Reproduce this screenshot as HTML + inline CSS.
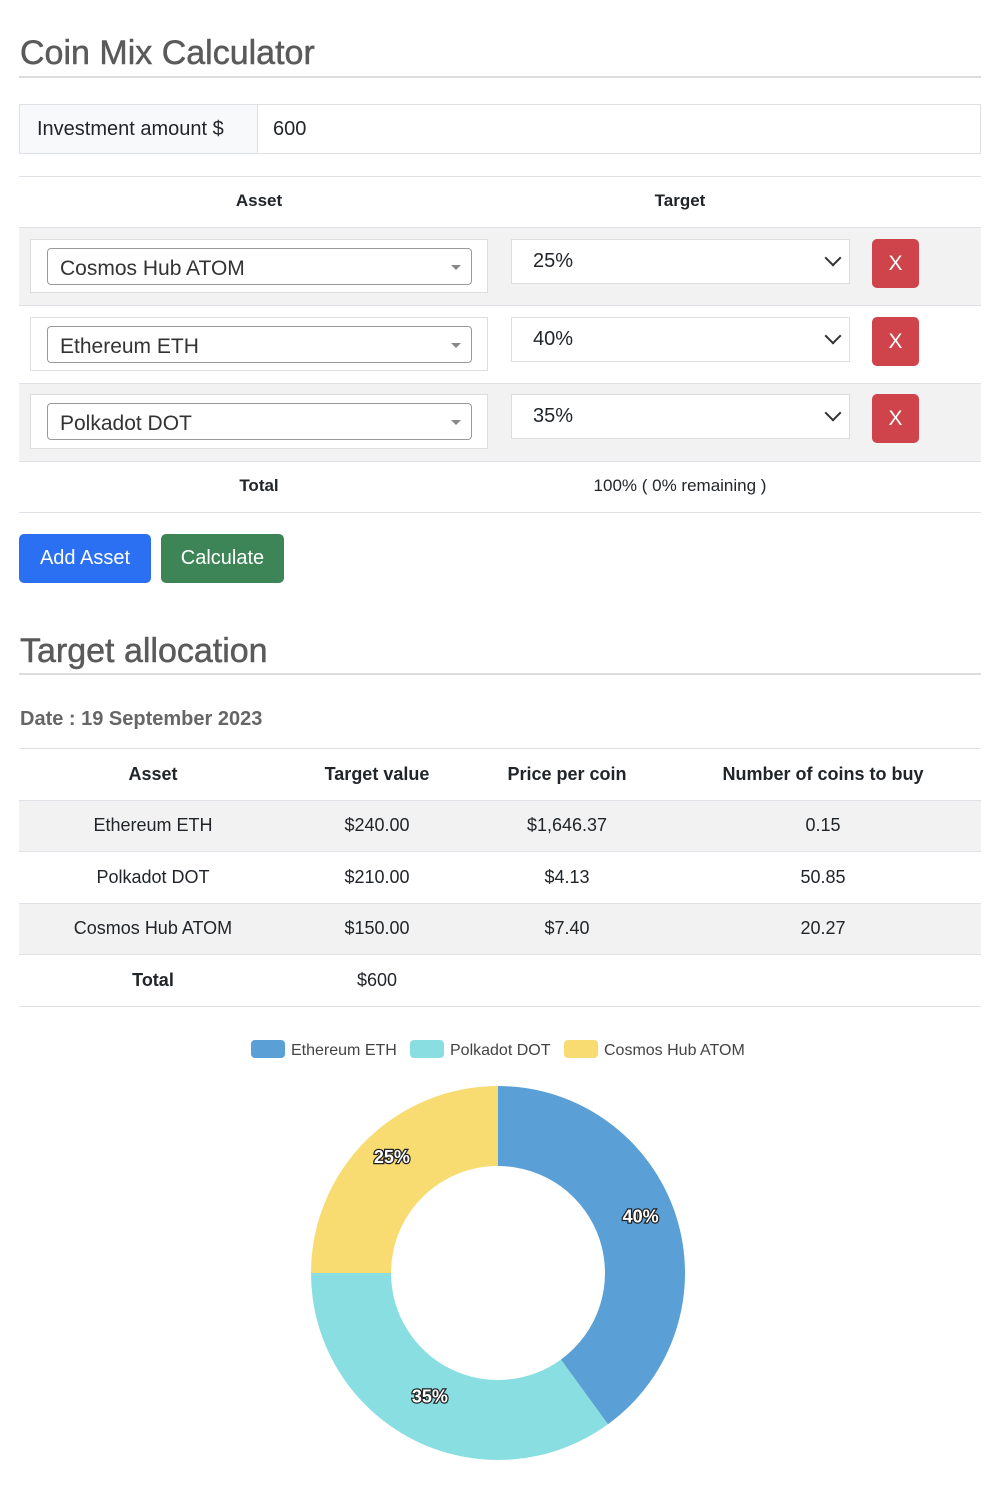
<!DOCTYPE html>
<html><head><meta charset="utf-8">
<style>
body{margin:0;width:996px;height:1508px;background:#fff;font-family:"Liberation Sans",sans-serif;color:#212529;position:relative;overflow:hidden}
.a{position:absolute}
.h{font-size:34px;color:#5a5a5a;left:20px;-webkit-text-stroke:0.5px #5a5a5a}
.rule{left:19px;width:962px;height:2px;background:#dcdcdc}
.ln{left:19px;width:962px;height:1px;background:#dee2e6}
.c{text-align:center;font-size:18px}
.b{font-weight:bold}
.sel{background:#fff;border:1px solid #999;border-radius:4px;font-size:21px;color:#333;box-sizing:border-box;padding:8px 12px}
.sel:after{content:"";position:absolute;right:10px;top:16px;border:5px solid transparent;border-top:5px solid #888}
.tgt{background:#fff;border:1px solid #ddd;font-size:20px;box-sizing:border-box;padding:10px 21px}
.chev{position:absolute;right:10px;top:12px;width:10px;height:10px;border-right:2px solid #333;border-bottom:2px solid #333;transform:rotate(45deg)}
.xb{background:#cf444b;color:#fff;border-radius:5px;font-size:21px;text-align:center;line-height:49px;width:47px;height:49px}
.btn{color:#fff;border-radius:5px;font-size:20px;text-align:center;line-height:49px;height:49px}
</style></head><body>
<div class="a h" style="top:34px">Coin Mix Calculator</div>
<div class="a rule" style="top:76px"></div>
<div class="a" style="left:19px;top:104px;width:962px;height:50px;border:1px solid #dee2e6;box-sizing:border-box">
 <div class="a" style="left:0;top:0;width:238px;height:48px;background:#f8f9fa;border-right:1px solid #dee2e6;font-size:20px;line-height:48px;padding-left:17px;box-sizing:border-box">Investment amount $</div>
 <div class="a" style="left:253px;top:0;font-size:20px;line-height:48px">600</div>
</div>
<div class="a ln" style="top:176px"></div>
<div class="a c b" style="left:19px;width:480px;top:191px;font-size:17px">Asset</div>
<div class="a c b" style="left:510px;width:340px;top:191px;font-size:17px">Target</div>
<div class="a ln" style="top:227px"></div>

<div class="a" style="left:19px;top:228px;width:962px;height:77px;background:#f2f2f2"></div>
<div class="a" style="left:19px;top:306px;width:962px;height:77px;background:#fff"></div>
<div class="a" style="left:19px;top:384px;width:962px;height:77px;background:#f2f2f2"></div>
<div class="a ln" style="top:305px"></div><div class="a ln" style="top:383px"></div><div class="a ln" style="top:461px"></div>

<div class="a" style="left:30px;top:239px;width:458px;height:54px;background:#fff;border:1px solid #ddd;box-sizing:border-box"></div>
<div class="a sel" style="left:47px;top:248px;width:425px;height:37px">Cosmos Hub ATOM</div>
<div class="a tgt" style="left:511px;top:239px;width:339px;height:45px">25%<span class="chev"></span></div>
<div class="a xb" style="left:872px;top:239px">X</div>

<div class="a" style="left:30px;top:317px;width:458px;height:54px;background:#fff;border:1px solid #ddd;box-sizing:border-box"></div>
<div class="a sel" style="left:47px;top:326px;width:425px;height:37px">Ethereum ETH</div>
<div class="a tgt" style="left:511px;top:317px;width:339px;height:45px">40%<span class="chev"></span></div>
<div class="a xb" style="left:872px;top:317px">X</div>

<div class="a" style="left:30px;top:394px;width:458px;height:55px;background:#fff;border:1px solid #ddd;box-sizing:border-box"></div>
<div class="a sel" style="left:47px;top:403px;width:425px;height:37px">Polkadot DOT</div>
<div class="a tgt" style="left:511px;top:394px;width:339px;height:45px">35%<span class="chev"></span></div>
<div class="a xb" style="left:872px;top:394px">X</div>

<div class="a c b" style="left:19px;width:480px;top:476px;font-size:17px">Total</div>
<div class="a c" style="left:510px;width:340px;top:476px;font-size:17px">100% ( 0% remaining )</div>
<div class="a ln" style="top:512px"></div>

<div class="a btn" style="left:19px;top:534px;width:132px;background:#2b6ff2">Add Asset</div>
<div class="a btn" style="left:161px;top:534px;width:123px;background:#3d8557">Calculate</div>

<div class="a h" style="top:632px">Target allocation</div>
<div class="a rule" style="top:673px"></div>
<div class="a" style="left:20px;top:708px;font-size:20px;color:#666;font-weight:bold">Date : 19 September 2023</div>

<div class="a ln" style="top:748px"></div>
<div class="a" style="left:19px;top:801px;width:962px;height:50px;background:#f2f2f2"></div>
<div class="a" style="left:19px;top:904px;width:962px;height:50px;background:#f2f2f2"></div>
<div class="a ln" style="top:800px"></div><div class="a ln" style="top:851px"></div><div class="a ln" style="top:903px"></div><div class="a ln" style="top:954px"></div><div class="a ln" style="top:1006px"></div>
<div id="tbl"></div>

<svg class="a" style="left:0;top:1020px" width="996" height="488">
<g id="legend"></g><g id="slices"></g><g id="labels"></g>
</svg>
<script>
const headers=["Asset","Target value","Price per coin","Number of coins to buy"];
const rows=[["Ethereum ETH","$240.00","$1,646.37","0.15"],["Polkadot DOT","$210.00","$4.13","50.85"],["Cosmos Hub ATOM","$150.00","$7.40","20.27"],["Total","$600","",""]];
const cx=[153,377,567,823];
const T=document.getElementById('tbl');
function cell(txt,x,y,bold,name){const d=document.createElement('div');d.className='a c'+(bold?' b':'');d.style.left=(x-150)+'px';d.style.width='300px';d.style.top=y+'px';d.textContent=txt;


T.appendChild(d);}
headers.forEach((h,i)=>cell(h,cx[i],764,true,'table-header'));
rows.forEach((r,j)=>r.forEach((v,i)=>cell(v,cx[i],815+j*51.5,j==3&&i==0,'table-cell')));

const labels=["Ethereum ETH","Polkadot DOT","Cosmos Hub ATOM"];
const values=[40,35,25];
const colors=["#5aa0d6","#88dee0","#f8dc72"];
const NS="http://www.w3.org/2000/svg";
const CX=498,CY=253,RO=187,RI=107,RL=150;
const total=values.reduce((a,b)=>a+b,0);
let ang=-Math.PI/2;
const S=document.getElementById('slices'),L=document.getElementById('labels'),G=document.getElementById('legend');
function pt(r,a){return [CX+r*Math.cos(a),CY+r*Math.sin(a)];}
values.forEach((v,i)=>{
 const a2=ang+v/total*2*Math.PI,lg=(a2-ang)>Math.PI?1:0;
 const p1=pt(RO,ang),p2=pt(RO,a2),p3=pt(RI,a2),p4=pt(RI,ang);
 const p=document.createElementNS(NS,'path');
 p.setAttribute('d',`M${p1}A${RO},${RO} 0 ${lg} 1 ${p2}L${p3}A${RI},${RI} 0 ${lg} 0 ${p4}Z`);
 p.setAttribute('fill',colors[i]);
 
 
 S.appendChild(p);
 const m=(ang+a2)/2,lp=pt(RL,m);
 const t=document.createElementNS(NS,'text');
 t.setAttribute('x',lp[0]);t.setAttribute('y',lp[1]-4);t.setAttribute('text-anchor','middle');
 t.setAttribute('font-size','18');t.setAttribute('font-weight','bold');t.setAttribute('fill','#fff');
 t.setAttribute('stroke','#222');t.setAttribute('stroke-width','2.5');t.setAttribute('paint-order','stroke');
 t.setAttribute('font-family','Liberation Sans, sans-serif');
 t.textContent=Math.round(v/total*100)+'%';
 
 
 L.appendChild(t);
 ang=a2;
});
const lx=[251,410,564];
labels.forEach((l,i)=>{
 const r=document.createElementNS(NS,'rect');
 r.setAttribute('x',lx[i]);r.setAttribute('y',20);r.setAttribute('width',34);r.setAttribute('height',18);r.setAttribute('rx',4);r.setAttribute('fill',colors[i]);
 
 
 G.appendChild(r);
 const t=document.createElementNS(NS,'text');
 t.setAttribute('x',lx[i]+40);t.setAttribute('y',35);t.setAttribute('font-size','16');t.setAttribute('fill','#444');
 t.setAttribute('font-family','Liberation Sans, sans-serif');t.textContent=l;
 
 
 G.appendChild(t);
});
</script>
</body></html>
